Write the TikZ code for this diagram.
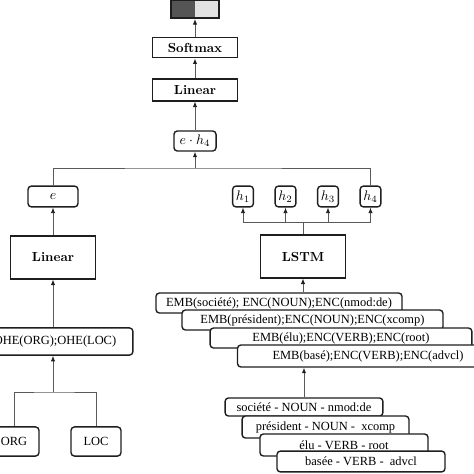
\documentclass[tikz,border=0pt]{standalone}
\usepackage{fontspec}
\newfontfamily\boxfont{Liberation Serif}
\usetikzlibrary{arrows.meta, positioning, calc}
\definecolor{ink}{HTML}{1E1E1E}
\definecolor{wire}{HTML}{5A5A5A}
\definecolor{probhi}{HTML}{555555}
\definecolor{problo}{HTML}{E2E2E2}

\begin{document}
\begin{tikzpicture}[
  x=0.0254cm, y=-0.0254cm,
  >={Latex[length=1.4mm, width=1.1mm, color=ink]},
  blk/.style={draw=ink, line width=0.8pt, fill=white, inner sep=0pt,
    font=\fontsize{9.5}{11}\selectfont\bfseries},
  rbox/.style={draw=ink, line width=1pt, fill=white, rounded corners=2.5pt, inner sep=0pt},
  tbox/.style={rbox, font=\boxfont\fontsize{9}{11}\selectfont},
  conn/.style={draw=wire, line width=0.6pt},
  arr/.style={conn, ->},
]

% Canvas
\useasboundingbox (0,0) rectangle (474,474);
\clip (0,0) rectangle (474,474);

% ============ Top: output head ============
\node[draw=ink, line width=1.4pt, fill=problo, inner sep=0pt,
  minimum width=1.22cm, minimum height=0.46cm,
  path picture={\fill[probhi] (path picture bounding box.south west)
    rectangle (path picture bounding box.north);}] (out) at (195,9) {};
\node[blk, minimum width=2.16cm, minimum height=0.53cm] (softmax) at (195,47.5) {Softmax};
\node[blk, minimum width=2.16cm, minimum height=0.56cm] (linA) at (195,90) {Linear};
\node[rbox, minimum width=1.07cm, minimum height=0.51cm] (eh) at (195,141) {$e\cdot h_4$};

\draw[arr] (softmax.north) -- (out.south);
\draw[arr] (linA.north) -- (softmax.south);
\draw[arr] (eh.north) -- (linA.south);

% ============ Left: entity branch ============
\node[rbox, minimum width=1.27cm, minimum height=0.53cm] (e) at (53,196.5) {$e$};
\node[blk, minimum width=2.18cm, minimum height=1.09cm] (linB) at (53,257.5) {Linear};
\node[tbox, minimum width=3.96cm, minimum height=0.69cm] (ohe) at (55,341.5) {OHE(ORG);OHE(LOC)};
\node[tbox, minimum width=1.27cm, minimum height=0.74cm] (org) at (14,441.5) {ORG};
\node[tbox, minimum width=1.27cm, minimum height=0.74cm] (loc) at (96,441.5) {LOC};

\coordinate (jo) at (53,392);
\draw[conn] (org.north) |- (jo) -| (loc.north);
\draw[arr] (jo) -- (jo |- ohe.south);
\draw[arr] (ohe.north -| linB) -- (linB.south);
\draw[arr] (linB.north) -- (e.south);

% ============ Right: LSTM branch ============
\foreach \i/\x in {1/243, 2/285.5, 3/328, 4/370.5} {
  \node[rbox, minimum width=0.53cm, minimum height=0.53cm] (h\i) at (\x,196.5) {$h_{\i}$};
}
\node[blk, minimum width=2.16cm, minimum height=1.09cm] (lstm) at (303,256.5) {LSTM};

\coordinate (jh) at (303,222);
\draw[conn] (lstm.north) -- (jh);
\foreach \i in {1,...,4} {
  \draw[arr] (jh) -| (h\i.south);
}

% Encoded tokens (stacked, later ones on top)
\node[tbox, minimum width=6.25cm, minimum height=0.51cm] (emb1) at (279,303)
  {EMB(société); ENC(NOUN);ENC(nmod:de)};
\node[tbox, minimum width=6.63cm, minimum height=0.51cm] (emb2) at (312.5,320)
  {EMB(président);ENC(NOUN);ENC(xcomp)};
\node[tbox, minimum width=6.65cm, minimum height=0.51cm] (emb3) at (341,338)
  {EMB(élu);ENC(VERB);ENC(root)};
\node[tbox, minimum width=6.63cm, minimum height=0.56cm] (emb4) at (368,356)
  {EMB(basé);ENC(VERB);ENC(advcl)};

\draw[arr] (lstm.south |- emb1.north) -- (lstm.south);

% Input tokens
\node[tbox, minimum width=4.01cm, minimum height=0.46cm] (w1) at (304,407)
  {société - NOUN - nmod:de};
\node[tbox, minimum width=4.24cm, minimum height=0.56cm] (w2) at (325.5,427)
  {président - NOUN -\ \ xcomp};
\node[tbox, minimum width=4.27cm, minimum height=0.56cm] (w3) at (344,445)
  {élu - VERB - root};
\node[tbox, minimum width=4.27cm, minimum height=0.53cm] (w4) at (361,461.5)
  {basée - VERB -\ \ advcl};

\draw[arr] (w1.north) -- (w1.north |- emb4.south);

% ============ Merge ============
\coordinate (jtop) at (195,168);
\draw[conn] (e.north) |- (jtop) -| (h4.north);
\draw[arr] (jtop) -- (eh.south);

\end{tikzpicture}
\end{document}
